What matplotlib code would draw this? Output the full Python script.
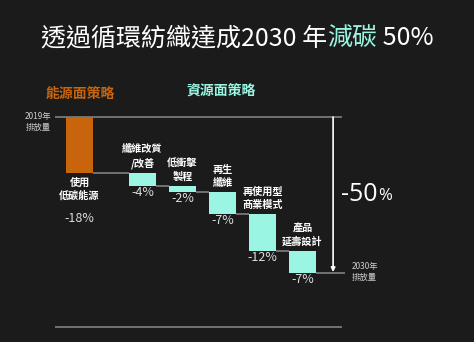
import matplotlib
matplotlib.use('Agg')
import matplotlib.pyplot as plt
import numpy as np

plt.rcParams['font.family'] = ['Noto Sans CJK TC', 'DejaVu Sans']

BG = '#1b1b1b'
ORANGE = '#c8650c'
TEAL = '#9af5e2'
LINE = '#808080'

# data
categories = ['使用\n低碳能源', '纖維改質\n/改善', '低衝擊\n製程', '再生\n纖維',
              '再使用型\n商業模式', '產品\n延壽設計']
groups = [0, 1, 1, 1, 1, 1]   # 0 = 能源面, 1 = 資源面
reductions = [18, 4, 2, 7, 12, 7]
value_labels = ['-18%', '-4%', '-2%', '-7%', '-12%', '-7%']
start_level = 100
total_label = '-50'

tops = start_level - np.concatenate([[0], np.cumsum(reductions)[:-1]])
bottoms = tops - np.array(reductions)
end_level = bottoms[-1]

fig = plt.figure(figsize=(4.74, 3.42), dpi=100, facecolor=BG)
ax = fig.add_axes([0, 0, 1, 1], facecolor=BG)
ax.set_axis_off()
# 1 category = 40px, 1% = 3.12px
ax.set_xlim(-79.5 / 40, (474 - 79.5) / 40)
ax.set_ylim(100 - 225 / 3.12, 100 + 117 / 3.12)

group_gap = 0.575
x = np.arange(len(reductions)) + group_gap * np.array(groups)
w = 0.68
colors = [ORANGE if g == 0 else TEAL for g in groups]
ax.bar(x, -np.array(reductions), bottom=tops, width=w, color=colors, zorder=3)

# baseline and bottom rule
ax.hlines(start_level, -0.61, 6.56, color=LINE, lw=1.2, zorder=2)
ax.hlines(ax.get_ylim()[0] + 15 / 3.12, -0.61, 6.56, color=LINE, lw=1.2)

# connectors
for i in range(len(reductions) - 1):
    ax.hlines(bottoms[i], x[i] + w / 2, x[i + 1] - w / 2, color=LINE, lw=1.2, zorder=2)
ax.hlines(end_level, x[-1] + w / 2, 6.64, color=LINE, lw=1.2, zorder=2)

# total arrow
ax.annotate('', xy=(6.34, end_level + 0.3), xytext=(6.34, start_level),
            arrowprops=dict(arrowstyle='-|>', color='white', lw=1.2,
                            mutation_scale=6, shrinkA=0, shrinkB=0))
mid = (start_level + end_level) / 2
t50 = ax.text(6.53, mid + 0.2, total_label, color='white',
              fontsize=18, ha='left', va='center', family=['Open Sans', 'DejaVu Sans'])

ax.text(-1.03, start_level - 1.6, '2019年\n排放量', color='#cccccc', fontsize=6,
        ha='center', va='center', linespacing=1.3)
ax.text(7.13, end_level + 0.4, '2030年\n排放量', color='#cccccc', fontsize=6,
        ha='center', va='center', linespacing=1.3)

# category and value labels
for i in range(len(reductions)):
    if i == 0:
        ax.annotate(categories[i], xy=(x[i], bottoms[i]), xytext=(0, -3),
                    textcoords='offset points', color='white', fontsize=7.3,
                    fontweight='bold', ha='center', va='top', linespacing=1.35)
        ax.annotate(value_labels[i], xy=(x[i], bottoms[i]), xytext=(0, -28),
                    textcoords='offset points', color='#dddddd', fontsize=9,
                    ha='center', va='top')
    else:
        ax.annotate(categories[i], xy=(x[i], tops[i]), xytext=(0, 3),
                    textcoords='offset points', color='white', fontsize=7.3,
                    fontweight='bold', ha='center', va='bottom', linespacing=1.35)
        ax.annotate(value_labels[i], xy=(x[i], bottoms[i]), xytext=(0, 0),
                    textcoords='offset points', color='#dddddd', fontsize=9,
                    ha='center', va='top')

ax.text(0.03, 107.5, '能源面策略', color=ORANGE, fontsize=10, fontweight='bold',
        ha='center', va='center')
ax.text(3.55, 108.2, '資源面策略', color=TEAL, fontsize=10, fontweight='bold',
        ha='center', va='center')

# title with coloured part
parts = [('透過循環紡織達成2030 年', 'white'), ('減碳', TEAL), (' 50%', 'white')]
fig.canvas.draw()
r = fig.canvas.get_renderer()
texts = []
for s, c in parts:
    t = fig.text(0, 1 - 38 / 342, s, color=c, fontsize=18, ha='left', va='center',
                 fontweight='medium')
    texts.append(t)
widths = [t.get_window_extent(r).width for t in texts]
xs = (474 - sum(widths)) / 2
for t, wd in zip(texts, widths):
    t.set_x(xs / 474)
    xs += wd

# small % right after -50
bb = t50.get_window_extent(r)
fig.text((bb.x1 + 1) / 474, (bb.y0 + bb.y1) / 2 / 342 - 0.004, '%', color='white',
         fontsize=12, ha='left', va='center', family=['Open Sans', 'DejaVu Sans'])

fig.savefig('out.png', dpi=100, facecolor=BG)
